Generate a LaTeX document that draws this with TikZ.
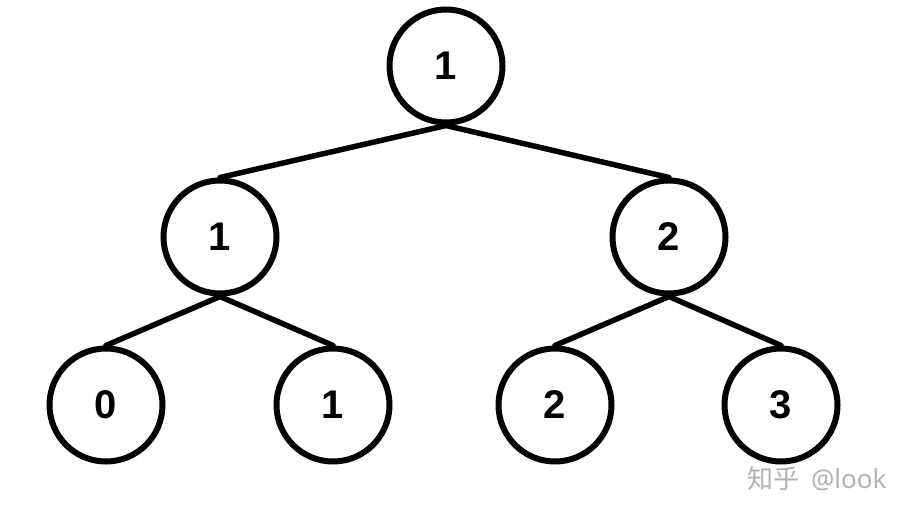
\documentclass[tikz,border=0pt]{standalone}
\usepackage{fontspec}
\setmainfont{Liberation Sans}
\newfontfamily\wmfont{Noto Sans}
\newfontfamily\cjk{Noto Sans CJK SC}
\begin{document}
\begin{tikzpicture}[x=1pt,y=-1pt,
  tnode/.style={circle,draw=black,line width=6pt,minimum size=113pt,inner sep=0pt,
    font=\fontsize{40}{40}\selectfont\bfseries},
  edge/.style={line width=5.5pt,line cap=round}]
\useasboundingbox (0,0) rectangle (915,516);
\fill[white] (0,0) rectangle (915,516);
\node[tnode] (r) at (446,66) {1};
\node[tnode] (a) at (220,237) {1};
\node[tnode] (b) at (669,237) {2};
\node[tnode] (c) at (106,405) {0};
\node[tnode] (d) at (333,405) {1};
\node[tnode] (e) at (555,405) {2};
\node[tnode] (f) at (781,405) {3};
\draw[edge] (r.south) -- (a.north);
\draw[edge] (r.south) -- (b.north);
\draw[edge] (a.south) -- (c.north);
\draw[edge] (a.south) -- (d.north);
\draw[edge] (b.south) -- (e.north);
\draw[edge] (b.south) -- (f.north);
\node[text=black!30,font=\fontsize{26}{26}\selectfont] (wm) at (817,478.5) {\cjk 知乎\ \ \wmfont @look};
\end{tikzpicture}
\end{document}
